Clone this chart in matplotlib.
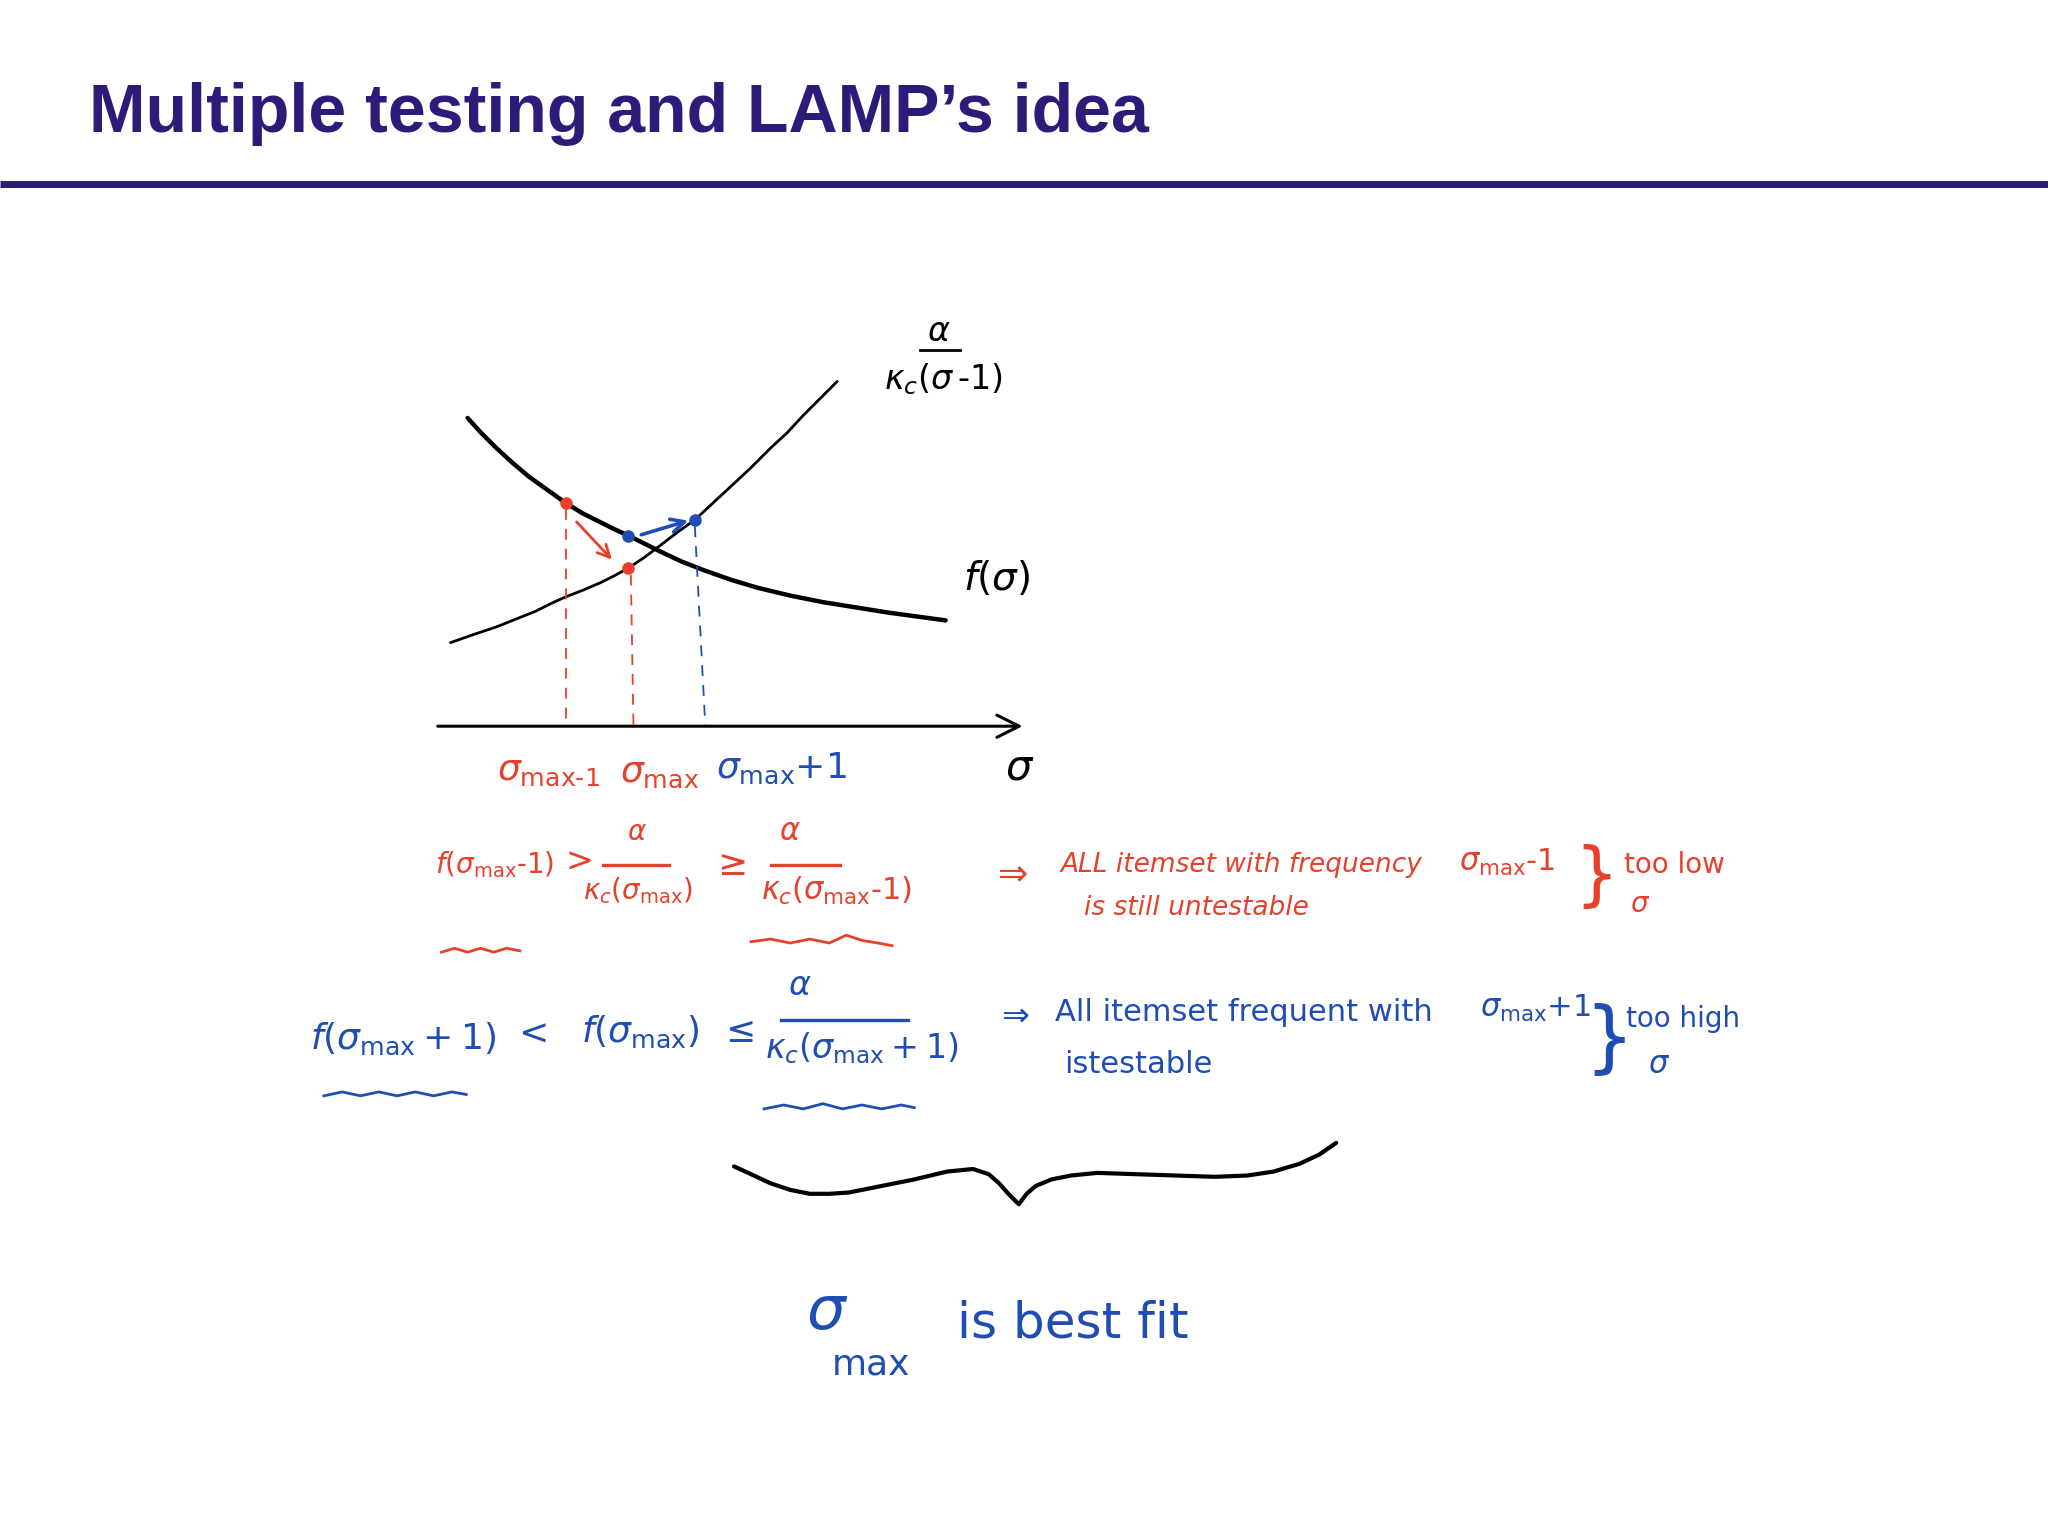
import matplotlib.pyplot as plt

# slide sketch, coordinates in 1568x1176 units
plt.rcParams['mathtext.fontset'] = 'dejavusans'
plt.rcParams['font.family'] = ['DejaVu Sans']

RED = '#e5412c'
BLUE = '#1f4db2'
PURPLE = '#2e1a78'

title_text = "Multiple testing and LAMP\u2019s idea"

# f(sigma), decreasing thick curve
f_x = [358, 368, 380, 392, 405, 419, 433, 446, 460, 470, 481, 493, 505, 522,
       540, 560, 580, 605, 630, 655, 680, 702, 724]
f_y = [320, 331, 343, 354, 365, 375, 385, 393, 400, 405, 410, 416, 422, 430,
       437, 444, 450, 456, 461, 465, 469, 472, 475]
# alpha / kappa_c(sigma-1), increasing curve
k_x = [345, 362, 380, 395, 410, 422, 433, 446, 460, 470, 481, 493, 505, 518,
       532, 546, 560, 575, 590, 603, 615, 628, 641]
k_y = [492, 486, 480, 474, 468, 462, 457, 452, 446, 441, 435, 427, 418, 408,
       398, 385, 372, 358, 343, 331, 318, 305, 292]

red_pts_x = [433, 481]
red_pts_y = [385, 435]
blue_pts_x = [481, 532]
blue_pts_y = [410, 398]

axis_y = 556
axis_x = [333, 785]

# dashed drop lines (x top, y top, x bottom)
drops = [(433, 390, 433, RED), (483, 440, 485, RED), (532, 403, 540, BLUE)]

# brace under the inequalities
brace_x = [562, 575, 590, 605, 620, 635, 650, 670, 700, 725, 745, 757, 765, 772,
           780, 786, 793, 805, 820, 840, 870, 900, 930, 955, 975, 995, 1010, 1023]
brace_y = [893, 899, 906, 911, 914, 914, 913, 909, 903, 897, 895, 899, 906, 914,
           922, 914, 908, 903, 900, 898, 899, 900, 901, 900, 897, 891, 884, 875]

# wavy underlines
wave_red_1_x = [338, 348, 358, 368, 378, 388, 398]
wave_red_1_y = [729, 726, 729, 726, 729, 726, 728]
wave_red_2_x = [575, 590, 605, 620, 635, 648, 660, 672, 683]
wave_red_2_y = [721, 719, 722, 719, 722, 716, 720, 722, 724]
wave_blue_1_x = [248, 262, 276, 290, 304, 318, 332, 346, 357]
wave_blue_1_y = [839, 836, 839, 836, 839, 836, 839, 836, 838]
wave_blue_2_x = [585, 600, 615, 630, 645, 660, 675, 690, 700]
wave_blue_2_y = [849, 846, 849, 845, 849, 846, 849, 846, 848]

fig = plt.figure(figsize=(20.48, 15.36), dpi=100)
ax = fig.add_axes([0, 0, 1, 1])
ax.set_xlim(0, 1568)
ax.set_ylim(1176, 0)
ax.axis('off')

# title and rule
ax.text(68, 101, title_text, fontsize=49, fontweight='bold', color=PURPLE,
        family='Liberation Sans', va='baseline', ha='left')
ax.plot([0, 1568], [141, 141], color=PURPLE, lw=5, solid_capstyle='butt')

# graph
ax.plot(f_x, f_y, color='black', lw=3.2, solid_capstyle='round', solid_joinstyle='round')
ax.plot(k_x, k_y, color='black', lw=2.0, solid_capstyle='round', solid_joinstyle='round')
ax.annotate('', xy=(axis_x[1], axis_y), xytext=(axis_x[0], axis_y),
            arrowprops=dict(arrowstyle='->', lw=2.2, color='black', mutation_scale=40))
for xt, yt, xb, c in drops:
    ax.plot([xt, xb], [yt, axis_y], color=c, lw=1.3, ls=(0, (6, 5)))
ax.plot(red_pts_x, red_pts_y, 'o', color=RED, ms=8)
ax.plot(blue_pts_x, blue_pts_y, 'o', color=BLUE, ms=8)
ax.annotate('', xy=(470, 430), xytext=(440, 398),
            arrowprops=dict(arrowstyle='->', lw=2, color=RED, mutation_scale=22))
ax.annotate('', xy=(529, 398), xytext=(489, 410),
            arrowprops=dict(arrowstyle='->', lw=2.6, color=BLUE, mutation_scale=24))

ax.text(420, 590, r'$\sigma_{\rm max\text{-}1}$', color=RED, fontsize=26, ha='center', va='center')
ax.text(505, 592, r'$\sigma_{\rm max}$', color=RED, fontsize=26, ha='center', va='center')
ax.text(598, 588, r'$\sigma_{\rm max}$+1', color=BLUE, fontsize=26, ha='center', va='center')
ax.text(781, 588, r'$\sigma$', color='black', fontsize=30, ha='center', va='center')
ax.text(719, 254, r'$\alpha$', color='black', fontsize=24, ha='center', va='center')
ax.plot([704, 735], [268, 268], color='black', lw=2)
ax.text(722, 290, r'$\kappa_c(\sigma\,\text{-}1)$', color='black', fontsize=24, ha='center', va='center')
ax.text(763, 443, r'$f(\sigma)$', color='black', fontsize=28, ha='center', va='center')


def fraction(xc, y_bar, x0, x1, den, den_x, color, size):
    ax.text(xc, y_bar - 14, r'$\alpha$', color=color, fontsize=size, ha='center', va='bottom')
    ax.plot([x0, x1], [y_bar, y_bar], color=color, lw=2.4)
    ax.text(den_x, y_bar + 8, den, color=color, fontsize=size, ha='center', va='top')


# red line of reasoning
ax.text(333, 662, r'$f(\sigma_{\rm max}\text{-}1)$', color=RED, fontsize=20, ha='left', va='center')
ax.text(444, 660, '>', color=RED, fontsize=24, ha='center', va='center')
fraction(488, 662, 462, 512, r'$\kappa_c(\sigma_{\rm max})$', 488, RED, 20)
ax.text(557, 662, r'$\geq$', color=RED, fontsize=26, ha='center', va='center')
fraction(605, 662, 590, 643, r'$\kappa_c(\sigma_{\rm max}\text{-}1)$', 640, RED, 22)
ax.text(776, 670, '\u21d2', color=RED, fontsize=26, ha='center', va='center')
ax.text(812, 662, 'ALL itemset with frequency', color=RED, fontsize=19, style='italic',
        ha='left', va='center')
ax.text(1117, 660, r'$\sigma_{\rm max}$-1', color=RED, fontsize=22, ha='left', va='center')
ax.text(830, 695, 'is still untestable', color=RED, fontsize=19, style='italic',
        ha='left', va='center')
ax.text(1222, 672, '}', color=RED, fontsize=50, ha='center', va='center')
ax.text(1243, 662, 'too low', color=RED, fontsize=20, ha='left', va='center')
ax.text(1256, 692, r'$\sigma$', color=RED, fontsize=20, ha='center', va='center')
ax.plot(wave_red_1_x, wave_red_1_y, color=RED, lw=2)
ax.plot(wave_red_2_x, wave_red_2_y, color=RED, lw=2)

# blue line of reasoning
ax.text(237, 795, r'$f(\sigma_{\rm max}+1)$', color=BLUE, fontsize=26, ha='left', va='center')
ax.text(408, 792, '<', color=BLUE, fontsize=26, ha='center', va='center')
ax.text(445, 790, r'$f(\sigma_{\rm max})$', color=BLUE, fontsize=26, ha='left', va='center')
ax.text(563, 790, r'$\leq$', color=BLUE, fontsize=26, ha='center', va='center')
fraction(612, 781, 598, 695, r'$\kappa_c(\sigma_{\rm max}+1)$', 660, BLUE, 24)
ax.text(777, 778, '\u21d2', color=BLUE, fontsize=24, ha='center', va='center')
ax.text(808, 775, 'All itemset frequent with', color=BLUE, fontsize=22, ha='left', va='center')
ax.text(1133, 772, r'$\sigma_{\rm max}$+1', color=BLUE, fontsize=22, ha='left', va='center')
ax.text(815, 815, 'istestable', color=BLUE, fontsize=22, ha='left', va='center')
ax.text(1232, 797, '}', color=BLUE, fontsize=56, ha='center', va='center')
ax.text(1245, 780, 'too high', color=BLUE, fontsize=20, ha='left', va='center')
ax.text(1270, 815, r'$\sigma$', color=BLUE, fontsize=22, ha='center', va='center')
ax.plot(wave_blue_1_x, wave_blue_1_y, color=BLUE, lw=2)
ax.plot(wave_blue_2_x, wave_blue_2_y, color=BLUE, lw=2)

# brace and conclusion
ax.plot(brace_x, brace_y, color='black', lw=3, solid_capstyle='round', solid_joinstyle='round')
ax.text(633, 1005, r'$\sigma$', color=BLUE, fontsize=44, ha='center', va='center')
ax.text(667, 1045, 'max', color=BLUE, fontsize=26, ha='center', va='center')
ax.text(733, 1013, 'is best fit', color=BLUE, fontsize=36, ha='left', va='center')

fig.savefig('out.png', dpi=100, facecolor='white')
